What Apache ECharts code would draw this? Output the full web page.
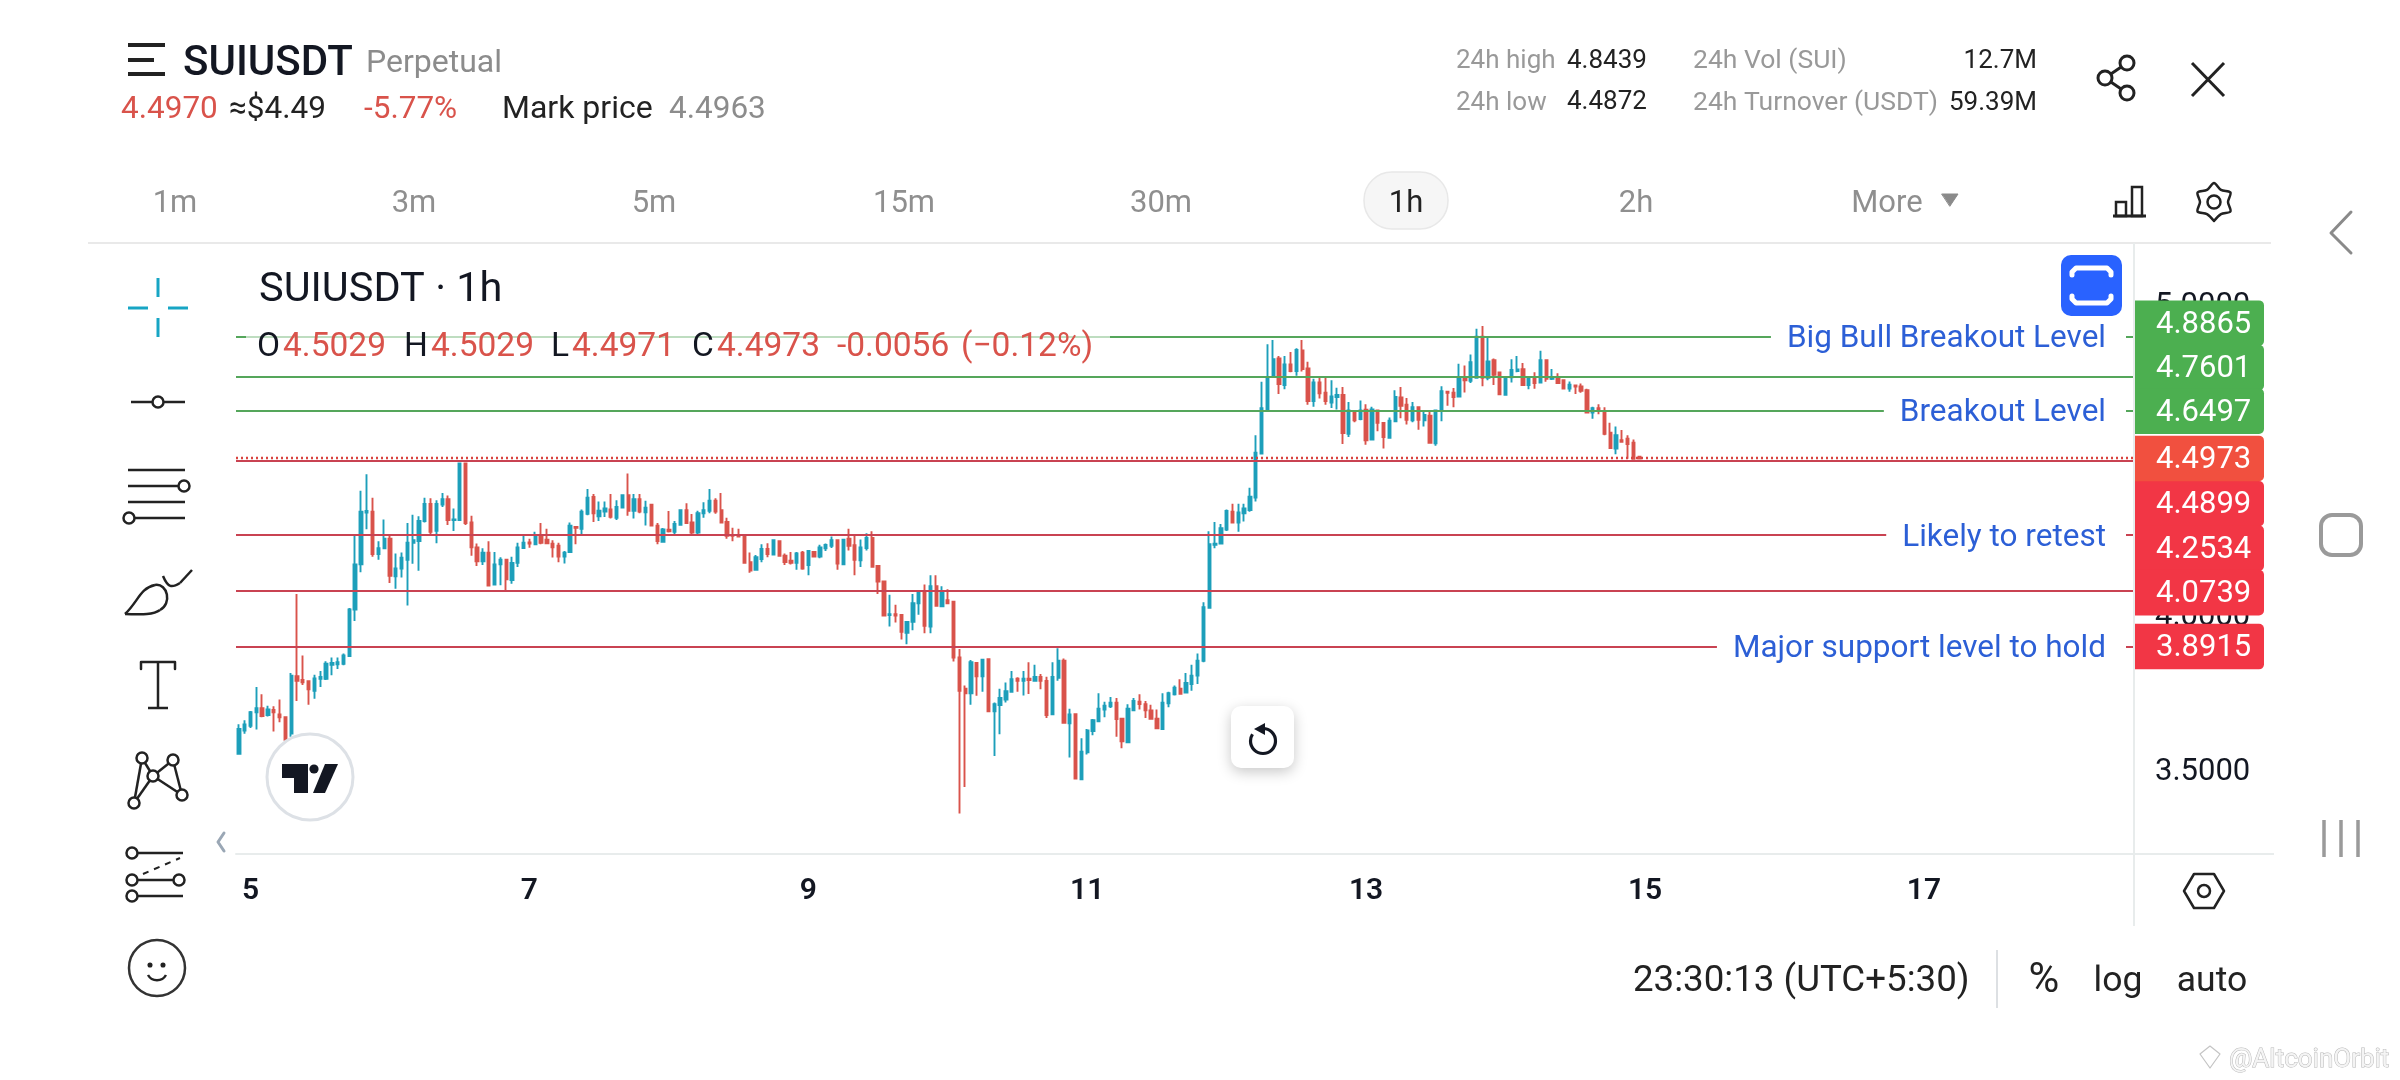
<!DOCTYPE html>
<html><head><meta charset="utf-8"><title>SUIUSDT 1h</title>
<style>html,body{margin:0;padding:0;background:#fff}#c{width:2400px;height:1080px}</style>
<script src="https://cdn.jsdelivr.net/npm/echarts@6/dist/echarts.min.js"></script></head>
<body><div id="c"></div>
<script>
const opens=[3.546,3.621,3.636,3.680,3.693,3.671,3.687,3.673,3.664,3.611,
3.796,3.784,3.780,3.749,3.788,3.788,3.833,3.834,3.836,3.861,
4.011,4.156,4.323,4.326,4.189,4.208,4.239,4.118,4.143,4.171,
4.226,4.231,4.296,4.351,4.264,4.349,4.366,4.299,4.299,4.481,
4.291,4.211,4.166,4.194,4.091,4.156,4.171,4.106,4.161,4.209,
4.227,4.221,4.251,4.236,4.223,4.216,4.181,4.196,4.277,4.271,
4.319,4.373,4.311,4.326,4.333,4.306,4.339,4.379,4.329,4.366,
4.324,4.348,4.281,4.229,4.268,4.261,4.284,4.331,4.291,4.259,
4.321,4.329,4.361,4.331,4.293,4.251,4.251,4.248,4.163,4.139,
4.173,4.206,4.188,4.231,4.184,4.168,4.161,4.194,4.154,4.196,
4.181,4.208,4.216,4.234,4.156,4.239,4.218,4.169,4.209,4.241,
4.151,4.101,3.993,3.996,3.993,3.936,3.971,4.031,4.064,3.956,
4.086,4.021,4.041,4.036,3.856,3.756,3.741,3.839,3.796,3.851,
3.683,3.703,3.721,3.746,3.788,3.781,3.788,3.781,3.794,3.781,
3.673,3.791,3.846,3.644,3.674,3.464,3.551,3.619,3.651,3.689,
3.699,3.711,3.659,3.583,3.686,3.714,3.706,3.686,3.659,3.626,
3.709,3.738,3.756,3.743,3.771,3.798,3.846,4.016,4.219,4.223,
4.268,4.326,4.291,4.321,4.331,4.371,4.513,4.655,4.760,4.819,
4.734,4.800,4.779,4.845,4.787,4.682,4.742,4.709,4.677,4.695,
4.702,4.577,4.650,4.624,4.654,4.558,4.652,4.612,4.564,4.617,
4.694,4.670,4.620,4.662,4.620,4.635,4.546,4.652,4.712,4.709,
4.697,4.760,4.747,4.757,4.889,4.757,4.814,4.774,4.702,4.759,
4.779,4.785,4.734,4.760,4.742,4.814,4.754,4.760,4.749,4.722,
4.732,4.729,4.717,4.645,4.659,4.650,4.580,4.529,4.556,4.561,
4.548,4.5029];
const highs=[3.641,3.654,3.684,3.761,3.738,3.701,3.699,3.721,3.666,3.806,
4.061,3.863,3.783,3.801,3.813,3.844,3.856,3.856,3.869,4.016,
4.248,4.393,4.446,4.371,4.231,4.301,4.248,4.191,4.194,4.289,
4.316,4.311,4.371,4.369,4.363,4.386,4.378,4.336,4.484,4.484,
4.313,4.223,4.208,4.231,4.196,4.179,4.173,4.181,4.226,4.248,
4.239,4.261,4.289,4.271,4.234,4.226,4.199,4.291,4.279,4.333,
4.399,4.383,4.359,4.359,4.383,4.363,4.379,4.449,4.383,4.383,
4.361,4.348,4.289,4.273,4.328,4.296,4.333,4.353,4.318,4.329,
4.356,4.399,4.369,4.386,4.306,4.274,4.271,4.251,4.194,4.186,
4.221,4.224,4.236,4.233,4.191,4.196,4.196,4.199,4.201,4.199,
4.219,4.223,4.246,4.236,4.239,4.271,4.251,4.236,4.256,4.263,
4.151,4.103,4.058,4.026,3.996,3.971,4.061,4.074,4.091,4.121,
4.121,4.086,4.076,4.039,3.884,3.766,3.848,3.841,3.851,3.851,
3.711,3.756,3.776,3.813,3.793,3.813,3.841,3.833,3.803,3.794,
3.841,3.886,3.853,3.691,3.676,3.596,3.626,3.658,3.741,3.714,
3.729,3.726,3.661,3.706,3.726,3.738,3.716,3.704,3.689,3.741,
3.746,3.766,3.786,3.806,3.833,3.869,4.034,4.263,4.293,4.286,
4.333,4.351,4.351,4.351,4.403,4.572,4.744,4.865,4.879,4.827,
4.827,4.840,4.852,4.879,4.809,4.754,4.759,4.760,4.749,4.725,
4.727,4.679,4.652,4.684,4.672,4.664,4.652,4.614,4.629,4.717,
4.727,4.692,4.679,4.664,4.649,4.652,4.654,4.730,4.715,4.724,
4.802,4.797,4.832,4.915,4.924,4.887,4.819,4.777,4.760,4.817,
4.827,4.805,4.760,4.775,4.844,4.814,4.785,4.772,4.752,4.745,
4.734,4.739,4.722,4.664,4.672,4.662,4.612,4.600,4.589,4.572,
4.558,4.5029];
const lows=[3.546,3.611,3.629,3.624,3.664,3.666,3.618,3.648,3.591,3.601,
3.716,3.768,3.704,3.723,3.761,3.784,3.799,3.819,3.831,3.861,
3.974,4.131,4.269,4.181,4.171,4.206,4.096,4.078,4.114,4.024,
4.158,4.136,4.291,4.253,4.224,4.341,4.283,4.264,4.296,4.283,
4.184,4.151,4.154,4.086,4.091,4.089,4.071,4.094,4.148,4.206,
4.210,4.219,4.221,4.221,4.178,4.163,4.159,4.194,4.221,4.253,
4.314,4.293,4.296,4.309,4.304,4.299,4.339,4.313,4.304,4.321,
4.281,4.278,4.221,4.226,4.259,4.253,4.281,4.289,4.251,4.253,
4.306,4.321,4.319,4.289,4.239,4.231,4.246,4.161,4.129,4.139,
4.163,4.179,4.186,4.184,4.154,4.156,4.139,4.139,4.121,4.179,
4.176,4.199,4.209,4.139,4.156,4.201,4.121,4.148,4.201,4.148,
4.061,3.989,3.956,3.969,3.914,3.899,3.944,3.994,3.934,3.934,
4.021,4.021,4.029,3.843,3.354,3.439,3.704,3.733,3.746,3.683,
3.539,3.609,3.711,3.746,3.746,3.734,3.739,3.778,3.754,3.661,
3.671,3.781,3.644,3.534,3.464,3.464,3.544,3.606,3.649,3.664,
3.694,3.601,3.564,3.581,3.683,3.689,3.661,3.656,3.626,3.624,
3.696,3.734,3.736,3.743,3.749,3.771,3.841,4.014,4.208,4.221,
4.264,4.289,4.261,4.294,4.326,4.359,4.511,4.652,4.760,4.705,
4.720,4.775,4.764,4.777,4.670,4.664,4.690,4.670,4.660,4.655,
4.544,4.566,4.614,4.620,4.541,4.556,4.585,4.529,4.563,4.617,
4.627,4.607,4.614,4.590,4.600,4.546,4.538,4.617,4.667,4.662,
4.695,4.710,4.740,4.755,4.730,4.749,4.734,4.702,4.699,4.742,
4.775,4.734,4.720,4.722,4.740,4.744,4.750,4.737,4.722,4.712,
4.705,4.709,4.642,4.625,4.640,4.572,4.529,4.511,4.548,4.496,
4.494,4.4971];
const closes=[3.626,3.641,3.680,3.693,3.668,3.689,3.680,3.664,3.591,3.798,
3.781,3.776,3.754,3.789,3.794,3.836,3.839,3.841,3.863,4.011,
4.156,4.326,4.328,4.189,4.208,4.239,4.119,4.143,4.178,4.226,
4.234,4.296,4.351,4.261,4.351,4.366,4.299,4.301,4.481,4.289,
4.211,4.166,4.194,4.088,4.156,4.171,4.108,4.161,4.211,4.226,
4.223,4.248,4.226,4.224,4.211,4.181,4.194,4.281,4.274,4.326,
4.371,4.321,4.329,4.336,4.309,4.341,4.379,4.329,4.366,4.326,
4.339,4.281,4.231,4.269,4.263,4.286,4.331,4.289,4.259,4.321,
4.331,4.361,4.326,4.291,4.248,4.248,4.246,4.161,4.136,4.179,
4.206,4.189,4.234,4.184,4.164,4.161,4.191,4.143,4.199,4.181,
4.211,4.219,4.234,4.159,4.236,4.216,4.171,4.211,4.241,4.148,
4.101,3.991,3.996,3.991,3.939,3.971,4.031,4.066,3.958,4.086,
4.023,4.064,4.031,3.856,3.749,3.741,3.841,3.796,3.849,3.683,
3.706,3.726,3.748,3.786,3.781,3.788,3.784,3.794,3.781,3.671,
3.794,3.846,3.646,3.673,3.466,3.553,3.621,3.654,3.691,3.701,
3.711,3.658,3.586,3.691,3.716,3.706,3.686,3.659,3.628,3.711,
3.741,3.759,3.739,3.774,3.798,3.846,4.018,4.221,4.223,4.273,
4.328,4.291,4.323,4.336,4.374,4.516,4.659,4.760,4.817,4.737,
4.800,4.779,4.847,4.785,4.682,4.742,4.707,4.682,4.697,4.702,
4.579,4.652,4.620,4.652,4.556,4.655,4.612,4.566,4.619,4.695,
4.667,4.622,4.662,4.622,4.637,4.548,4.652,4.714,4.709,4.695,
4.760,4.749,4.807,4.889,4.757,4.810,4.767,4.704,4.757,4.782,
4.784,4.734,4.757,4.740,4.814,4.754,4.760,4.740,4.722,4.735,
4.729,4.715,4.645,4.659,4.652,4.577,4.531,4.572,4.551,4.544,
4.496,4.4973];
const dayLabels=['5','7','9','11','13','15','17'];
const firstDayIndex=2, candlesPerTick=48, totalSlots=327;
const yTicks=[3.5,4,4.5,5];
const levelValues=[4.8865,4.7601,4.6497,4.4899,4.2534,4.0739,3.8915];
const levelNames=['Big Bull Breakout Level','','Breakout Level','','Likely to retest','','Major support level to hold'];
const lastPrice=4.4973;
const tagValues=[4.8865,4.7601,4.6497,4.4973,4.4899,4.2534,4.0739,3.8915];
const tagShift=[-14.4,-9.2,0,0,43,14,2.7,0];
const F='Roboto';
const GREEN='#4caf50',LINE_GREEN='#55a65b',LINE_RED='#c94352',TAG_RED='#f23645',UP='#1d9fba',DOWN='#d9534b',BLUE='#2c5fd6',INK='#131722';
const cats=[];for(let i=0;i<totalSlots;i++){const k=(i-firstDayIndex)/candlesPerTick;cats.push(Number.isInteger(k)&&dayLabels[k]?dayLabels[k]:'');}
const candle=opens.map((o,i)=>[o,closes[i],lows[i],highs[i]]);
const chart=echarts.init(document.getElementById('c'),null,{width:2400,height:1080});
const lineData=levelValues.map((v,i)=>({yAxis:v,lineStyle:{color:i<3?LINE_GREEN:LINE_RED,width:2,type:'solid'},
 label:levelNames[i]?{show:true,formatter:levelNames[i],position:'insideEnd',distance:10,offset:[0,2.5],color:BLUE,fontFamily:F,fontSize:31.5,backgroundColor:'#fff',padding:[5,20,5,16]}:{show:false}}));
lineData.push({yAxis:lastPrice,lineStyle:{color:'#d9433f',width:2.4,type:[2,3]},label:{show:false}});
chart.setOption({animation:false,backgroundColor:'#fff',
 grid:{left:236,top:243.6,width:1900,height:610,containLabel:false},
 xAxis:{type:'category',data:cats,boundaryGap:true,axisTick:{show:false},axisLine:{lineStyle:{color:'#e8ecec',width:2}},splitLine:{show:false},
  axisLabel:{interval:0,margin:23,color:INK,fontFamily:F,fontSize:30,fontWeight:600,hideOverlap:false}},
 yAxis:{type:'value',position:'right',min:3.2247,max:5.1892,scale:true,axisLine:{show:false},axisTick:{show:false},splitLine:{show:false},
  axisLabel:{customValues:yTicks,margin:19,formatter:v=>'{t|'+v.toFixed(4)+'}',rich:{t:{color:INK,fontFamily:F,fontSize:31,padding:[8,0,0,0]}}}},
 series:[
  {type:'line',name:'levels',data:[],z:1,silent:true,symbol:'none',markLine:{silent:true,symbol:'none',animation:false,data:lineData}},
  {type:'candlestick',name:'SUIUSDT',z:2,data:candle,barWidth:2.8,itemStyle:{color:UP,color0:DOWN,borderColor:UP,borderColor0:DOWN,borderWidth:1.9}}
 ]});
// --- chrome
const Z=50;const g=[];
const T=(x,y,text,size,fill,o={})=>g.push({type:'text',z:o.z||Z+2,x,y,style:{text,fill,font:`${o.w||400} ${size}px ${F}`,align:o.a||'left',verticalAlign:'middle',textAlign:o.a||'left',textVerticalAlign:'middle',stroke:o.stroke,lineWidth:o.lw}});
const L=(x1,y1,x2,y2,stroke,w=2,o={})=>g.push({type:'line',z:o.z||Z,shape:{x1,y1,x2,y2},style:{stroke,lineWidth:w,lineDash:o.dash,lineCap:o.cap||'butt'}});
const C=(cx,cy,r,stroke,w=2,fill='#fff')=>g.push({type:'circle',z:Z+1,shape:{cx,cy,r},style:{stroke,lineWidth:w,fill}});
const R=(x,y,width,height,r,fill,o={})=>g.push({type:'rect',z:o.z||Z,shape:{x,y,width,height,r},style:{fill,stroke:o.stroke,lineWidth:o.lw,shadowBlur:o.sb,shadowColor:o.sc,shadowOffsetY:o.so}});
const P=(points,o={})=>g.push({type:o.fill?'polygon':'polyline',z:o.z||Z,shape:{points,smooth:o.smooth||0},style:{stroke:o.stroke,lineWidth:o.w||2,fill:o.fill||'none',lineJoin:'round',lineCap:'round'}});
// header
R(128,43,37,4,0,'#222');R(128,58,26,4,0,'#222');R(128,72,37,4,0,'#222');
T(183,64,'SUIUSDT',42,'#131722',{w:500});T(366,64,'Perpetual',32,'#8c8c8c');
T(121,110,'4.4970',31.5,DOWN);T(229,110,'≈$4.49',31.5,'#222');T(364,110,'-5.77%',31.5,DOWN);T(502,110,'Mark price',32,'#222');T(669,110,'4.4963',31.5,'#8c8c8c');
T(1456,61,'24h high',26,'#999');T(1567,61,'4.8439',26,'#222');T(1456,103,'24h low',26,'#999');T(1567,102,'4.4872',26,'#222');
T(1693,61,'24h Vol (SUI)',26.5,'#999');T(2037,61,'12.7M',26,'#222',{a:'right'});T(1693,103,'24h Turnover (USDT)',26.5,'#999');T(2037,103,'59.39M',26,'#222',{a:'right'});
L(2127,63,2105,78,'#222',3);L(2105,78,2127,93,'#222',3);C(2127,63,7,'#222',3);C(2105,78,7,'#222',3);C(2127,93,7,'#222',3);
L(2192,63,2224,96,'#222',3);L(2224,63,2192,96,'#222',3);
// interval row
[['1m',175],['3m',414],['5m',654],['15m',904],['30m',1161],['2h',1636]].forEach(([t,x])=>T(x,204,t,31,'#8f8f8f',{a:'center'}));
R(1364,172,84,57,28,'#f6f6f6',{stroke:'#e8e8e8',lw:1.5});T(1406,204,'1h',31,'#222',{a:'center'});
T(1887,204,'More',31,'#8f8f8f',{a:'center'});P([[1942,194],[1958,194],[1950,206]],{fill:'#8a8a8a',stroke:'#8a8a8a',w:1});
L(2113,216,2146,216,'#222',3);R(2116,202,10,14,0,'none',{stroke:'#222',lw:2.5});R(2132,187,10,29,0,'none',{stroke:'#222',lw:2.5});
{const pts=[];for(let i=0;i<12;i++){const a=Math.PI*i/6+Math.PI/2,r=i%2?14:19;pts.push([2214+r*Math.cos(a),202+r*Math.sin(a)]);}pts.push(pts[0]);P(pts,{stroke:'#222',w:2.5,smooth:0.3});C(2214,202,6.5,'#222',2.5);}
L(88,243,2271,243,'#e9e9e9',2);
L(2134,243,2134,926,'#e8ecec',2,{z:Z+5});L(236,854,2274,854,'#e8ecec',2);
// title + legend
T(259,291,'SUIUSDT · 1h',41.5,'#131722');
R(246,326,864,40,0,'rgba(255,255,255,0.62)',{z:Z-1});
const og=(x,t,fill)=>T(x,348,t,33.5,fill);
og(257,'O',INK);og(283,'4.5029',DOWN);og(404,'H',INK);og(431,'4.5029',DOWN);og(551,'L',INK);og(572,'4.4971',DOWN);og(692,'C',INK);og(717,'4.4973',DOWN);og(837,'-0.0056',DOWN);og(961,'(−0.12%)',DOWN);
// blue button
R(2061,255,61,61,10,'#2962ff');
P([[2072,275],[2072,272],[2076,268],[2107,268],[2111,272],[2111,275]],{stroke:'#fff',w:5,z:Z+1});
P([[2072,296],[2072,299],[2076,303],[2107,303],[2111,299],[2111,296]],{stroke:'#fff',w:5,z:Z+1});
// toolbar
const ic='#222';
[[128,148,308,308],[168,188,308,308],[158,158,278,297],[158,158,318,337]].forEach(a=>L(a[0],a[2],a[1],a[3],'#17a5c4',3));
L(131,402,185,402,ic,2.5);C(158,402,5.5,ic,2.5);
L(128,470,185,470,ic,2.5);L(128,486,180,486,ic,2.5);L(128,502,185,502,ic,2.5);L(134,518,185,518,ic,2.5);C(184,486,5.5,ic,2.5);C(129,518,5.5,ic,2.5);
const bez=(x1,y1,cpx1,cpy1,cpx2,cpy2,x2,y2,z=Z)=>g.push({type:'bezierCurve',z,shape:{x1,y1,cpx1,cpy1,cpx2,cpy2,x2,y2},style:{stroke:ic,lineWidth:2.5,fill:'none'}});
bez(125,614,138,602,140,588,155,585);bez(155,585,168,583,172,604,160,610);bez(160,610,152,616,135,614,125,614);
bez(163,576,168,588,172,588,180,583);L(180,583,192,570,ic,2.5);
P([[141,669],[141,662],[175,662],[175,669]],{stroke:ic,w:2.5});L(158,662,158,708,ic,2.5);L(148,708,168,708,ic,2.5);
[[142,758,134,803],[142,758,153,776],[153,776,134,803],[153,776,173,760],[173,760,182,795],[153,776,182,795]].forEach(a=>L(a[0],a[1],a[2],a[3],ic,2.5));
[[142,758],[173,760],[153,776],[134,803],[182,795]].forEach(a=>C(a[0],a[1],5.5,ic,2.5));
L(132,853,183,853,ic,2.5);L(132,880,179,880,ic,2.5);L(132,896,183,896,ic,2.5);L(143,874,180,858,ic,2,{dash:[6,6]});
C(132,853,5.5,ic,2.5);C(132,880,5.5,ic,2.5);C(179,880,5.5,ic,2.5);C(132,896,5.5,ic,2.5);
C(157,968,28,'#333',2.5);C(150,965,1.8,ic,1.5,ic);C(163,965,1.8,ic,1.5,ic);
bez(148,975,152,982,162,982,166,975,Z+2);
P([[224,833],[218,842],[224,851]],{stroke:'#9aa7b5',w:3});
// logo
g.push({type:'circle',z:Z+1,shape:{cx:310,cy:777,r:43},style:{fill:'#fff',stroke:'#dde1e6',lineWidth:3}});
g.push({type:'polygon',z:Z+2,shape:{points:[[282,764],[308,764],[308,793],[294,793],[294,778],[282,778]]},style:{fill:'#131722'}});
g.push({type:'circle',z:Z+2,shape:{cx:314,cy:769,r:4.6},style:{fill:'#131722'}});
g.push({type:'polygon',z:Z+2,shape:{points:[[325,764],[338,764],[325,793],[313,793]]},style:{fill:'#131722'}});
// undo
R(1231,706,63,62,10,'#fff',{sb:14,sc:'rgba(0,0,0,0.22)',so:4});
g.push({type:'arc',z:Z+1,shape:{cx:1263,cy:741,r:12.5,startAngle:-Math.PI/2,endAngle:-Math.PI/2-1.0,clockwise:true},style:{stroke:'#131722',lineWidth:3.2,fill:'none'}});
g.push({type:'polygon',z:Z+1,shape:{points:[[1254,729],[1265,723],[1265,735]]},style:{fill:'#131722'}});
// bottom
P([[2184,891],[2194,874],[2214,874],[2224,891],[2214,908],[2194,908],[2184,891]],{stroke:'#222',w:2.5});C(2204,891,6,'#222',2.5);
T(1633,982,'23:30:13 (UTC+5:30)',36.7,'#222');L(1997,950,1997,1008,'#dde0e3',2);
T(2044,981,'%',42,'#222',{a:'center'});T(2118,982,'log',35.5,'#222',{a:'center'});T(2212,982,'auto',35.5,'#222',{a:'center'});
T(2229,1060,'@AltcoinOrbit',26,'#f4f4f4',{stroke:'#b8b8b8',lw:1});
P([[2200,1054],[2210,1046],[2220,1054],[2210,1068],[2200,1054]],{stroke:'#c4c4c4',w:1.2});
// nav
P([[2351,212],[2331,233],[2351,253]],{stroke:'#8a8a8a',w:3});
R(2321,515,40,40,11,'none',{stroke:'#9a9a9a',lw:4});
[2324,2341,2358].forEach(x=>L(x,820,x,857,'#9a9a9a',3.5));
// price tags
const tagColor=v=>v===lastPrice?'#f1503f':(v>lastPrice?GREEN:TAG_RED);
tagValues.forEach((v,i)=>{const cy=chart.convertToPixel({yAxisIndex:0},v)+tagShift[i];
 g.push({type:'rect',z:Z+3+(i===3?1:0),shape:{x:2134,y:cy-22.8,width:130,height:45.6,r:[0,5,5,0]},style:{fill:tagColor(v)}});
 T(2156,cy+2,v.toFixed(4),31,'#fff',{z:Z+5});});
chart.setOption({graphic:{elements:g}});
</script></body></html>
